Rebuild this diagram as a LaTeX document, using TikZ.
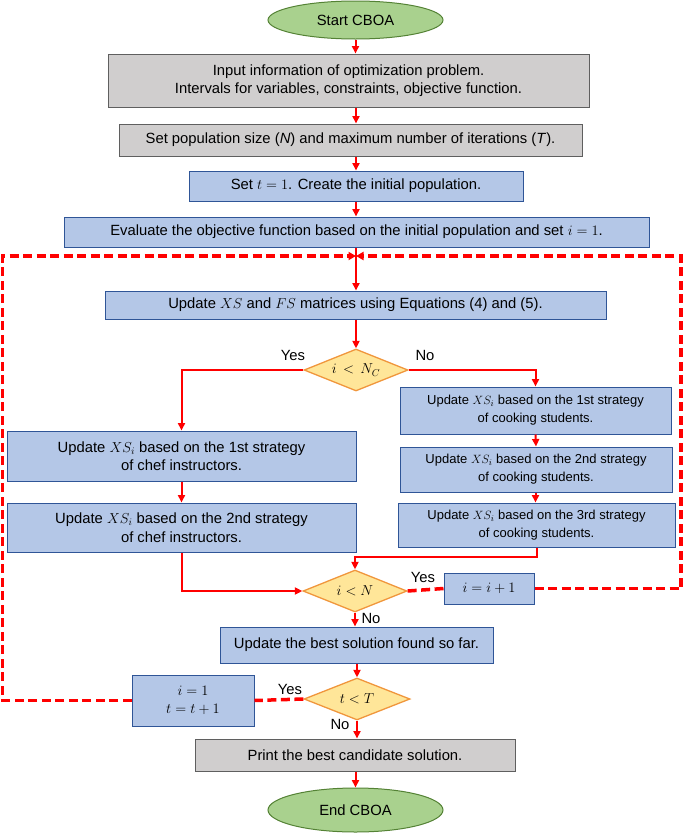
\documentclass[tikz,border=0pt]{standalone}
\usepackage{fontspec}
\setmainfont{Liberation Sans}
\usetikzlibrary{shapes.geometric,arrows.meta,calc}
\definecolor{gfill}{HTML}{D0CECE}
\definecolor{gline}{HTML}{5F5F5F}
\definecolor{bfill}{HTML}{B4C7E7}
\definecolor{bline}{HTML}{2F5597}
\definecolor{dfill}{HTML}{FFE699}
\definecolor{dline}{HTML}{F0963C}
\definecolor{efill}{HTML}{A9D18E}
\definecolor{eline}{HTML}{548235}
\definecolor{rline}{HTML}{FF0000}
\begin{document}
\begin{tikzpicture}[x=1pt,y=-1pt,
 base/.style={draw, inner sep=0pt, align=center, font=\fontsize{14.8}{18.5}\selectfont},
 gbox/.style={base, rectangle, fill=gfill, draw=gline, line width=1pt},
 bbox/.style={base, rectangle, fill=bfill, draw=bline, line width=1pt},
 sbox/.style={bbox, font=\fontsize{13}{18}\selectfont},
 dia/.style={base, diamond, fill=dfill, draw=dline, line width=1.3pt, minimum width=104pt, minimum height=42pt, aspect=2.5},
 term/.style={base, ellipse, fill=efill, draw=eline, line width=1pt, minimum width=175pt},
 arr/.style={draw=rline, line width=2pt, -{Triangle[length=7.5pt,width=7pt]}},
 loopline/.style={draw=rline, line width=3.5pt, dash pattern=on 9pt off 4.5pt},
 lbl/.style={font=\fontsize{14.8}{17}\selectfont, inner sep=0pt}
]
\useasboundingbox (0,0) rectangle (685,836);

\node[term, minimum height=38pt] (start) at (355.5,20) {Start CBOA};
\node[gbox, minimum width=481pt, minimum height=53pt] (b1) at (348.5,80.5) {Input information of optimization problem.\\Intervals for variables, constraints, objective function.};
\node[gbox, minimum width=463pt, minimum height=32pt] (b2) at (350.5,140) {Set population size (\textit{N}) and maximum number of iterations (\textit{T}).};
\node[bbox, minimum width=334pt, minimum height=30pt] (b3) at (356,186) {Set $t=1$. Create the initial population.};
\node[bbox, minimum width=585pt, minimum height=30pt] (b4) at (356.5,232) {Evaluate the objective function based on the initial population and set $i=1$.};
\node[bbox, minimum width=501pt, minimum height=28pt] (b5) at (355.5,305) {Update $XS$ and $FS$ matrices using Equations (4) and (5).};
\node[dia] (d1) at (356,370) {$i\,<\,N_C$};
\node[bbox, minimum width=349pt, minimum height=50pt] (b6) at (181.5,456) {Update $XS_i$ based on the 1st strategy\\of chef instructors.};
\node[bbox, minimum width=349pt, minimum height=49pt] (b6b) at (181.5,527.5) {Update $XS_i$ based on the 2nd strategy\\of chef instructors.};
\node[sbox, minimum width=271pt, minimum height=47pt] (b7) at (535.5,410.5) {Update $XS_i$ based on the 1st strategy\\of cooking students.};
\node[sbox, minimum width=272pt, minimum height=45pt] (b8) at (536,469.5) {Update $XS_i$ based on the 2nd strategy\\of cooking students.};
\node[sbox, minimum width=277pt, minimum height=44pt] (b9) at (536.5,525) {Update $XS_i$ based on the 3rd strategy\\of cooking students.};
\node[dia] (d2) at (355,591) {$i<N$};
\node[bbox, minimum width=90pt, minimum height=31pt] (b10) at (489,588.5) {$i=i+1$};
\node[bbox, minimum width=273pt, minimum height=36pt] (b11) at (356.5,645) {Update the best solution found so far.};
\node[dia, minimum width=106pt] (d3) at (357,699) {$t<T$};
\node[bbox, minimum width=122pt, minimum height=51pt] (b12) at (193,700.5) {$i=1$\\$t=t+1$};
\node[gbox, minimum width=320pt, minimum height=32pt] (b13) at (355,755) {Print the best candidate solution.};
\node[term, minimum height=44pt] (end) at (355.5,810) {End CBOA};

\coordinate (top) at (356,256);
\coordinate (tl) at (2.5,256);
\coordinate (tr) at (681,256);

% loops
\draw[loopline] (d2.east) -- (b10.west);
\draw[loopline, -{Triangle[length=7.5pt,width=8pt]}] (b10.east) -| (tr) -- (top);
\draw[loopline] (d3.west) -- (b12.east);
\draw[loopline, -{Triangle[length=7.5pt,width=8pt]}] (b12.west) -| (tl) -- (top);

% arrows
\draw[arr] (start.south) -- (start.south |- b1.north);
\draw[arr] (b1.south -| top) -- (b2.north -| top);
\draw[arr] (b2.south -| top) -- (b3.north -| top);
\draw[arr] (b3.south -| top) -- (b4.north -| top);
\draw[arr] (b4.south -| top) -- (b5.north -| top);
\draw[arr] (b5.south -| d1.north) -- (d1.north);
\draw[arr] (d1.west) -| (b6.north);
\draw[arr] (d1.east) -| (b7.north);
\draw[arr] (b6.south) -- (b6b.north);
\draw[arr] (b7.south) -- (b8.north);
\draw[arr] (b8.south -| b7.south) -- (b9.north -| b7.south);
\draw[arr] (b9.south) -- ++(0,9) -| (d2.north);
\draw[arr] (b6b.south) |- (d2.west);
\draw[arr] (d2.south) -- (d2.south |- b11.north);
\draw[arr] (b11.south -| d3.north) -- (d3.north);
\draw[arr] (d3.south) -- (d3.south |- b13.north);
\draw[arr] (b13.south -| end.north) -- (end.north);

% labels
\node[lbl] (y1) at (293,355) {Yes};
\node[lbl] (n1) at (425,355) {No};
\node[lbl] (y2) at (423,577) {Yes};
\node[lbl] (n2) at (371,618) {No};
\node[lbl] (y3) at (290,689) {Yes};
\node[lbl] (n3) at (340,724) {No};
\end{tikzpicture}
\end{document}
